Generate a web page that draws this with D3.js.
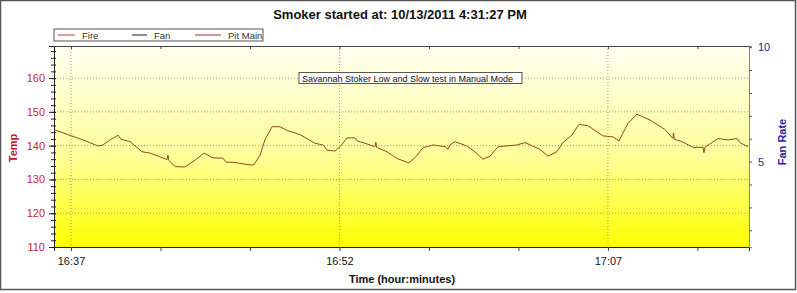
<!DOCTYPE html>
<html>
<head>
<meta charset="utf-8">
<script src="https://cdn.jsdelivr.net/npm/d3@7"></script>
<style>
  body { margin: 0; background: #fff; }
  svg { display: block; font-family: "Liberation Sans", Arial, sans-serif; }
</style>
</head>
<body>
<svg id="chart" width="797" height="293"></svg>
<script>
// Pit Main temperature readings (time of day, degrees)
const pitTimes = [
  '16:36:07', '16:37:40', '16:38:31', '16:38:47', '16:39:11', '16:39:38', '16:39:47', '16:40:18',
  '16:40:58', '16:41:25', '16:42:22', '16:42:25', '16:42:28', '16:42:49', '16:43:22', '16:43:56',
  '16:44:26', '16:44:56', '16:45:29', '16:45:40', '16:46:03', '16:47:00', '16:47:13', '16:47:34',
  '16:47:50', '16:48:14', '16:48:41', '16:49:07', '16:49:47', '16:50:38', '16:51:05', '16:51:18',
  '16:51:45', '16:52:02', '16:52:25', '16:52:52', '16:52:59', '16:53:19', '16:53:59', '16:54:02',
  '16:54:05', '16:54:39', '16:55:13', '16:55:53', '16:56:16', '16:56:40', '16:57:14', '16:57:54',
  '16:58:04', '16:58:10', '16:58:27', '16:59:07', '16:59:34', '17:00:01', '17:00:25', '17:00:52',
  '17:01:55', '17:02:22', '17:03:12', '17:03:39', '17:04:09', '17:04:29', '17:04:59', '17:05:23',
  '17:05:53', '17:06:43', '17:07:17', '17:07:37', '17:08:07', '17:08:37', '17:09:21', '17:10:11',
  '17:10:38', '17:10:40', '17:10:43', '17:11:08', '17:11:45', '17:12:19', '17:12:22', '17:12:25',
  '17:12:42', '17:13:09', '17:13:43', '17:14:13', '17:14:23', '17:14:49'
];
const pitTemps = [
  144.6, 141.7, 139.9, 140.2, 141.7, 143.1, 141.9, 141.2,
  138.2, 137.8, 135.9, 137.2, 135.6, 133.8, 133.7, 135.7,
  137.8, 136.4, 136.3, 135.1, 135.1, 134.3, 134.3, 137.2,
  141.7, 145.6, 145.6, 144.4, 143.3, 140.7, 140.2, 138.7,
  138.4, 139.7, 142.3, 142.3, 141.4, 140.9, 139.7, 141.0,
  139.5, 138.2, 136.2, 134.9, 136.7, 139.4, 140.2, 139.7,
  138.9, 140.2, 141.2, 139.9, 138.2, 136.0, 136.9, 139.7,
  140.2, 140.9, 138.9, 136.9, 138.2, 140.9, 143.1, 146.3,
  145.9, 142.9, 142.6, 141.4, 146.6, 149.3, 147.6, 144.8,
  142.1, 143.8, 141.9, 141.2, 139.5, 139.5, 137.9, 139.5,
  140.5, 142.1, 141.7, 142.1, 140.9, 139.7
];

// Axis settings
const timeDomain = ['16:36:03', '17:14:53'];
const timeTicks = ['16:37', '16:42', '16:47', '16:52', '16:57', '17:02', '17:07', '17:12'];
const timeTickLabels = ['16:37', '16:52', '17:07'];
const tempDomain = [110, 169.5];
const tempTicks = [110, 120, 130, 140, 150, 160];
const fanDomain = [1.27, 10.05];
const fanTicks = [2, 3, 4, 5, 6, 7, 8, 9, 10];
const fanTickLabels = [5, 10];

// Legend entries
const legendNames = ['Fire', 'Fan', 'Pit Main'];
const legendColors = ['#c0392b', '#1a1a4a', '#b03030'];

const titleText = 'Smoker started at: 10/13/2011 4:31:27 PM';
const noteText = 'Savannah Stoker Low and Slow test in Manual Mode';

// Plot box inside the 797x293 picture
const margin = { top: 46, right: 48, bottom: 46, left: 54 };
const width = 797 - margin.left - margin.right;
const height = 293 - margin.top - margin.bottom;

const svg = d3.select('#chart');
const parseTime = d3.timeParse('%H:%M:%S');
const parseHM = d3.timeParse('%H:%M');
const fmtHM = d3.timeFormat('%H:%M');

// Outer frame
svg.append('rect')
  .attr('x', 0.5).attr('y', 0.5)
  .attr('width', 795).attr('height', 289)
  .attr('fill', '#fff')
  .attr('stroke', '#555')
  .attr('stroke-width', 1.5);

// Scales
const x = d3.scaleTime()
  .domain(timeDomain.map(parseTime))
  .range([0, width]);
const yTemp = d3.scaleLinear().domain(tempDomain).range([height, 0]);
const yFan = d3.scaleLinear().domain(fanDomain).range([height, 0]);

const g = svg.append('g').attr('transform', `translate(${margin.left},${margin.top})`);

// Background gradient, pale at top to bright yellow at bottom
const defs = svg.append('defs');
const grad = defs.append('linearGradient')
  .attr('id', 'bg').attr('x1', 0).attr('y1', 0).attr('x2', 0).attr('y2', 1);
grad.append('stop').attr('offset', '0%').attr('stop-color', '#fffff2');
grad.append('stop').attr('offset', '55%').attr('stop-color', '#ffff99');
grad.append('stop').attr('offset', '100%').attr('stop-color', '#ffff00');

g.append('rect')
  .attr('width', width).attr('height', height)
  .attr('fill', 'url(#bg)');

// Dotted grid lines
g.append('g').selectAll('line')
  .data(timeTickLabels.map(parseHM))
  .join('line')
  .attr('x1', d => x(d)).attr('x2', d => x(d))
  .attr('y1', 0).attr('y2', height)
  .attr('stroke', '#999').attr('stroke-dasharray', '1,2');

g.append('g').selectAll('line')
  .data(tempTicks.slice(1))
  .join('line')
  .attr('x1', 0).attr('x2', width)
  .attr('y1', d => yTemp(d)).attr('y2', d => yTemp(d))
  .attr('stroke', '#999').attr('stroke-dasharray', '1,2');

// Time ticks every 5 minutes
const tickTimes = timeTicks.map(parseHM);

// Bottom axis
const xAxis = g.append('g')
  .attr('transform', `translate(0,${height})`)
  .call(d3.axisBottom(x)
    .tickValues(tickTimes)
    .tickSize(4)
    .tickPadding(6)
    .tickFormat(d => timeTickLabels.includes(fmtHM(d)) ? fmtHM(d) : ''));
xAxis.select('.domain').attr('stroke', '#222');
xAxis.selectAll('.tick line').attr('stroke', '#444');
xAxis.selectAll('text').attr('fill', '#111').style('font-size', '11px');

// Top border with inward ticks
const topAxis = g.append('g')
  .call(d3.axisBottom(x).tickValues(tickTimes).tickSize(3).tickFormat(''));
topAxis.select('.domain').attr('stroke', '#444');
topAxis.selectAll('.tick line').attr('stroke', '#444');

// Left temperature axis, minor ticks every 2 degrees
const leftMinor = g.append('g')
  .call(d3.axisLeft(yTemp).tickValues(d3.range(110, 170, 2)).tickSize(3).tickFormat(''));
leftMinor.selectAll('.tick line').attr('x1', 2).attr('stroke', '#222');
leftMinor.select('.domain').remove();

const yAxis = g.append('g')
  .call(d3.axisLeft(yTemp).tickValues(tempTicks).tickSize(5).tickPadding(4));
yAxis.select('.domain').attr('stroke', '#222');
yAxis.selectAll('.tick line').attr('x1', 2).attr('stroke', '#222');
yAxis.selectAll('text').attr('fill', '#c8283a').style('font-size', '11px');

// Right fan rate axis
const fanAxis = g.append('g')
  .attr('transform', `translate(${width},0)`)
  .call(d3.axisRight(yFan)
    .tickValues(fanTicks)
    .tickSize(3)
    .tickPadding(6)
    .tickFormat(d => fanTickLabels.includes(d) ? d : ''));
fanAxis.select('.domain').attr('stroke', '#888');
fanAxis.selectAll('.tick line').attr('stroke', '#555');
fanAxis.selectAll('text').attr('fill', '#23239a').style('font-size', '11px');

// Pit Main line
const pitData = pitTimes.map((t, i) => ({ time: parseTime(t), temp: pitTemps[i] }));
const line = d3.line()
  .x(d => x(d.time))
  .y(d => yTemp(d.temp));

g.append('path')
  .datum(pitData)
  .attr('fill', 'none')
  .attr('stroke', '#8e4a22')
  .attr('stroke-width', 1)
  .attr('d', line);

// Note box
const note = svg.append('g').attr('transform', 'translate(299,72.5)');
note.append('rect')
  .attr('width', 223).attr('height', 11)
  .attr('fill', '#fff').attr('stroke', '#555');
note.append('text')
  .attr('x', 3).attr('y', 9)
  .style('font-size', '9px')
  .attr('fill', '#111')
  .text(noteText);

// Legend box
const legend = svg.append('g').attr('transform', 'translate(54,29)');
legend.append('rect')
  .attr('width', 209).attr('height', 12)
  .attr('fill', '#fff').attr('stroke', '#555');
const legendX = [4, 78, 141];
const legendLen = [17, 15, 26];
legendNames.forEach((name, i) => {
  legend.append('line')
    .attr('x1', legendX[i]).attr('x2', legendX[i] + legendLen[i])
    .attr('y1', 6).attr('y2', 6)
    .attr('stroke', legendColors[i]);
  legend.append('text')
    .attr('x', legendX[i] + legendLen[i] + 7)
    .attr('y', 10)
    .style('font-size', '9.5px')
    .attr('fill', '#333')
    .text(name);
});

// Title and axis labels
svg.append('text')
  .attr('x', 400).attr('y', 19)
  .attr('text-anchor', 'middle')
  .style('font-size', '13px').style('font-weight', 'bold')
  .attr('fill', '#111')
  .text(titleText);

svg.append('text')
  .attr('x', 402).attr('y', 283)
  .attr('text-anchor', 'middle')
  .style('font-size', '11px').style('font-weight', 'bold')
  .attr('fill', '#111')
  .text('Time (hour:minutes)');

svg.append('text')
  .attr('transform', 'translate(17,148) rotate(-90)')
  .attr('text-anchor', 'middle')
  .style('font-size', '11px').style('font-weight', 'bold')
  .attr('fill', '#c0102a')
  .text('Temp');

svg.append('text')
  .attr('transform', 'translate(786,142) rotate(-90)')
  .attr('text-anchor', 'middle')
  .style('font-size', '11px').style('font-weight', 'bold')
  .attr('fill', '#23239a')
  .text('Fan Rate');
</script>
</body>
</html>
